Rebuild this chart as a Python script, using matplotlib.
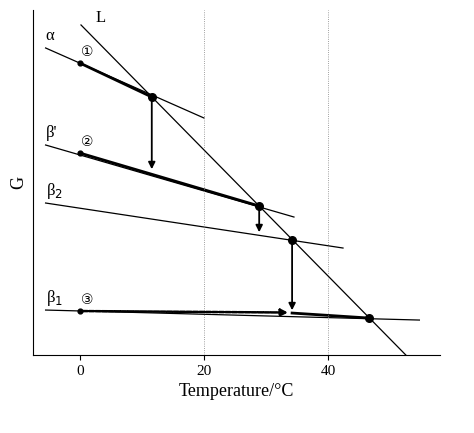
import numpy as np
import matplotlib.pyplot as plt

plt.rcParams['font.family'] = ['Liberation Serif', 'DejaVu Serif']

# thin phase lines (x endpoints, G endpoints)
alpha_x, alpha_g = [-5.5, 20.0], [307, 237]
L_x, L_g = [0.2, 53.0], [330, -3]
bp_x, bp_g = [-5.5, 34.5], [210, 138]
b2_x, b2_g = [-5.5, 42.4], [152, 107]
b1_x, b1_g = [-5.5, 54.7], [45, 35]
# crossing points
cross_x = [11.6, 28.9, 34.2, 46.6]
cross_g = [258, 149, 115, 37]
# start markers at 0 °C
start_x = [0, 0, 0]
start_g = [292, 202, 44]
circ = ['①', '②', '③']
# transition drops (x, from, to)
drop_x = [11.6, 28.9, 34.2]
drop_from = [258, 149, 115]
drop_to = [183, 120, 42]

fig = plt.figure(figsize=(4.74, 4.33), dpi=100)
ax = fig.add_axes([0.07, 0.18, 0.858, 0.797])

for xs, gs in [(alpha_x, alpha_g), (L_x, L_g), (bp_x, bp_g), (b2_x, b2_g), (b1_x, b1_g)]:
    ax.plot(xs, gs, color='black', lw=0.9)

# thick paths
ax.plot([0, cross_x[0]], [start_g[0], cross_g[0]], color='black', lw=2)
ax.plot([0, cross_x[1]], [start_g[1], cross_g[1]], color='black', lw=2)
ax.plot([cross_x[2], cross_x[3]], [drop_to[2], cross_g[3]], color='black', lw=2)
ax.annotate('', xy=(34.0, 42.5), xytext=(0, start_g[2]),
            arrowprops=dict(arrowstyle='-|>', color='black', lw=1.8, ls=(0, (2, 0.6))))

for x, g0, g1 in zip(drop_x, drop_from, drop_to):
    ax.annotate('', xy=(x, g1), xytext=(x, g0),
                arrowprops=dict(arrowstyle='-|>', color='black', lw=1.3))

ax.scatter(cross_x, cross_g, s=30, color='black', zorder=5)
ax.scatter(start_x, start_g, s=12, color='black', zorder=5)
for x, g, c in zip(start_x, start_g, circ):
    ax.text(x + 0.2, g + 4, c, fontsize=10, ha='left', va='bottom', family=['DejaVu Sans'])

ax.text(-5.5, 315, 'α', fontsize=12)
ax.text(2.5, 333, 'L', fontsize=12)
ax.text(-5.5, 218, "β'", fontsize=12)
ax.text(-5.5, 160, 'β$_2$', fontsize=12)
ax.text(-5.5, 53, 'β$_1$', fontsize=12)

for v in [20, 40]:
    ax.axvline(v, color='gray', lw=0.6, ls=':')

ax.set_xlim(-7.5, 58)
ax.set_ylim(0, 345)
ax.set_xticks([0, 20, 40])
ax.set_yticks([])
ax.tick_params(labelsize=11, direction='out')
ax.spines['top'].set_visible(False)
ax.spines['right'].set_visible(False)
ax.set_xlabel('Temperature/°C', fontsize=13)
ax.set_ylabel('G', fontsize=13)

fig.savefig('out.png', dpi=100)
